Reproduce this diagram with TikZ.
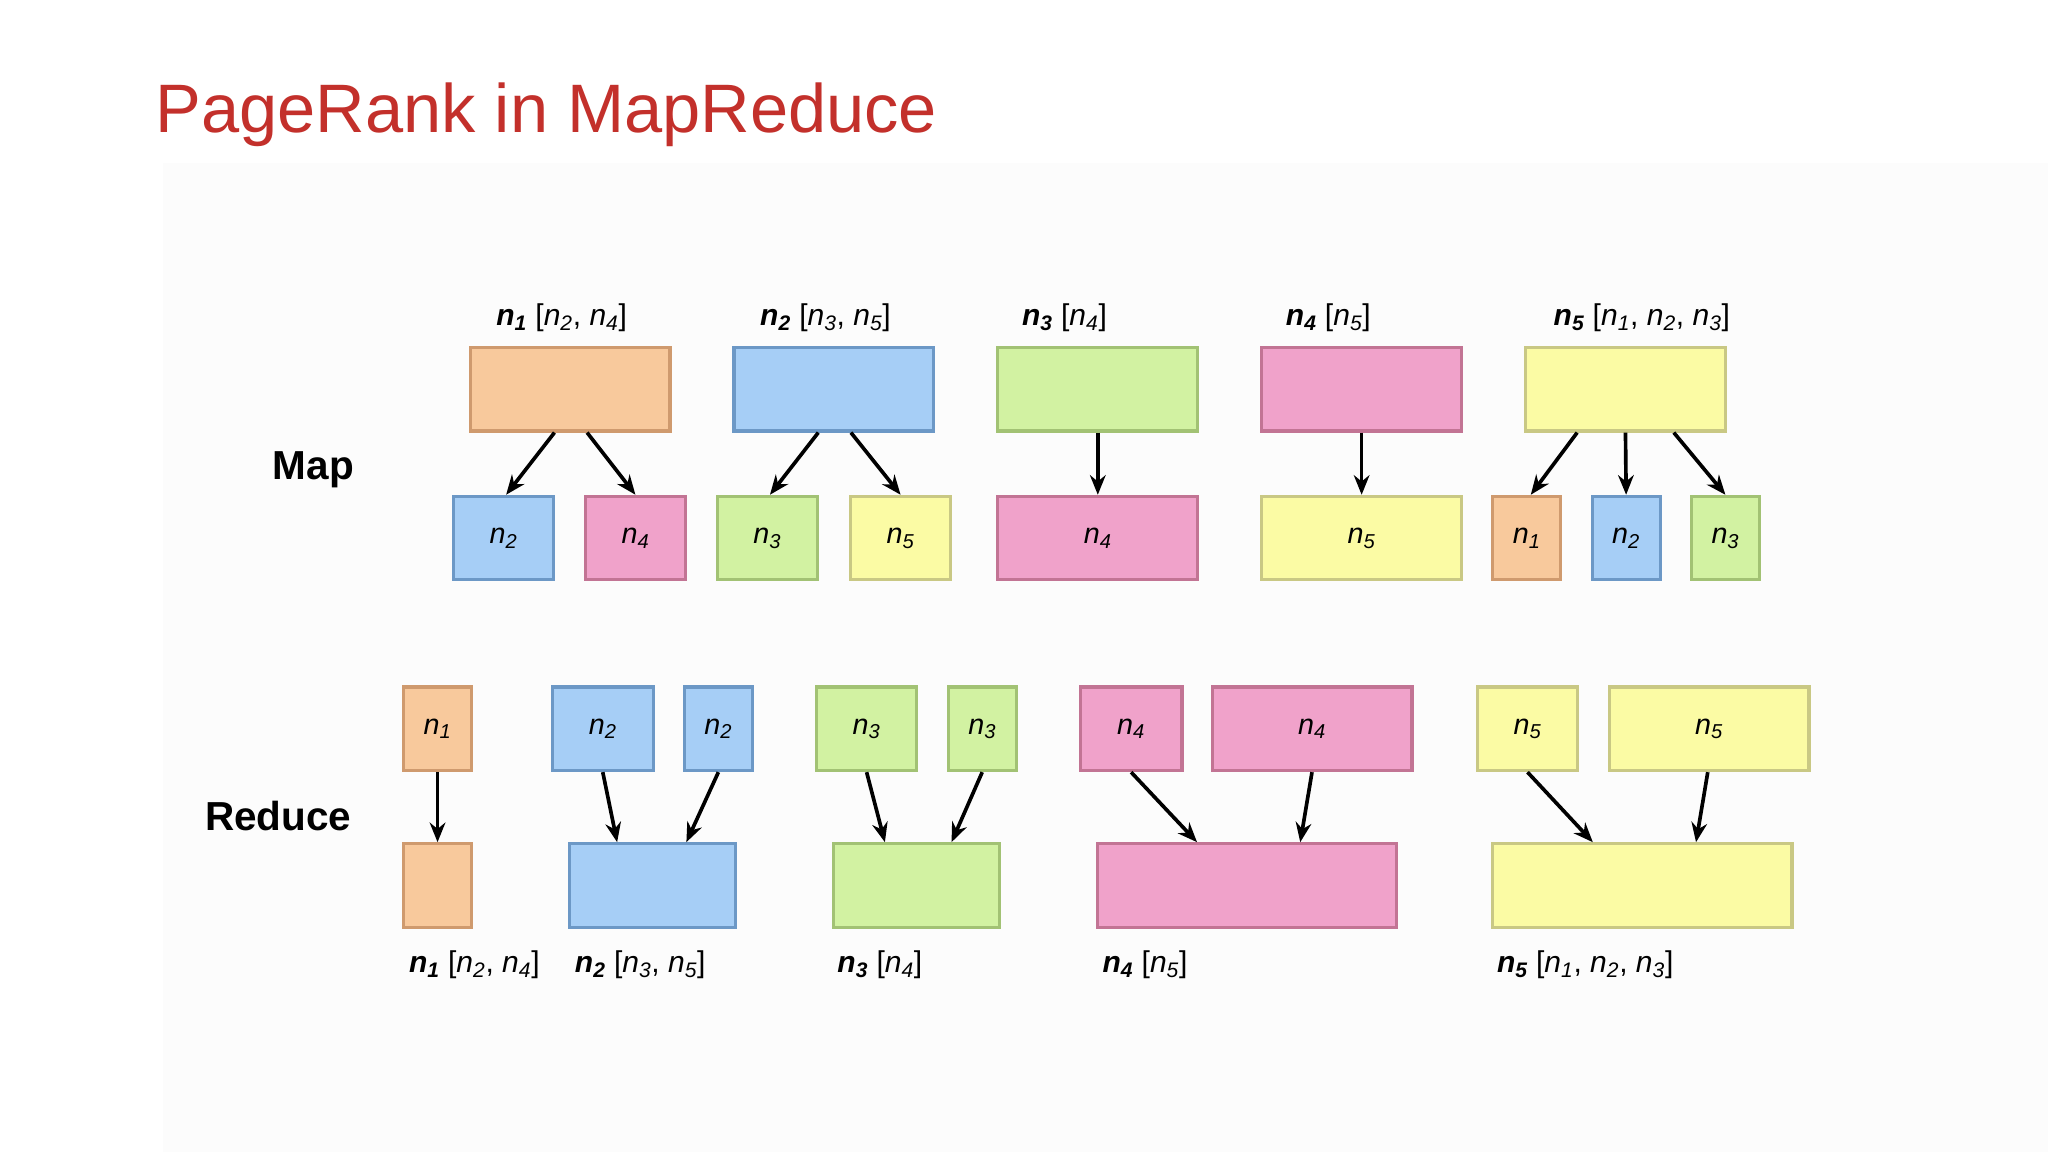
\documentclass[tikz,border=0pt]{standalone}
\usepackage{fontspec}
\setmainfont{Liberation Sans}
\usetikzlibrary{calc,arrows.meta}
\definecolor{ofill}{HTML}{F8C99C}\definecolor{odraw}{HTML}{CF9A6E}
\definecolor{bfill}{HTML}{A6CEF6}\definecolor{bdraw}{HTML}{6C98C6}
\definecolor{gfill}{HTML}{D2F2A2}\definecolor{gdraw}{HTML}{A2C274}
\definecolor{pfill}{HTML}{F0A2CA}\definecolor{pdraw}{HTML}{C27494}
\definecolor{yfill}{HTML}{FBFBA4}\definecolor{ydraw}{HTML}{C9C884}
\definecolor{titlered}{HTML}{C3302B}
\definecolor{bgpanel}{HTML}{FCFCFC}
\newcommand{\nv}[1]{{\itshape n\textsubscript{#1}}}
\newcommand{\nb}[1]{{\bfseries\itshape n\textsubscript{#1}}}
\tikzset{
 bx/.style={draw=#1draw,fill=#1fill,line width=2.4pt,inner sep=0pt,font=\fontsize{22}{24}\selectfont},
 arr/.style={-{Stealth[length=15pt,width=12pt]},line width=2.8pt},
 lab/.style={font=\fontsize{23}{26}\selectfont,inner sep=0pt}
}
\newcommand{\B}[6]{\node[bx=#1,minimum width=#4-#3,minimum height=64pt] (#2) at ({(#3+#4)/2},{#5+32}) {#6};}
\begin{document}
\begin{tikzpicture}[x=1pt,y=-1pt]
\useasboundingbox (0,0) rectangle (1568,882);
\fill[white] (0,0) rectangle (1568,882);
\fill[bgpanel] (125,125) rectangle (1568,882);
\node[anchor=west,text=titlered,font=\fontsize{52.5}{58}\selectfont,inner sep=0pt] (title) at (119,88) {PageRank in MapReduce};
\node[font=\bfseries\fontsize{31}{34}\selectfont] (map) at (240,360) {Map};
\node[font=\bfseries\fontsize{31}{34}\selectfont] (red) at (213,625) {Reduce};
% map top
\B{o}{t1}{360}{513}{266}{}
\B{b}{t2}{562}{715}{266}{}
\B{g}{t3}{764}{917}{266}{}
\B{p}{t4}{966}{1119}{266}{}
\B{y}{t5}{1168}{1321}{266}{}
\node[lab] (l1) at (430,243) {\nb1 [\nv2, \nv4]};
\node[lab] (l2) at (632,243) {\nb2 [\nv3, \nv5]};
\node[lab] (l3) at (815,243) {\nb3 [\nv4]};
\node[lab] (l4) at (1017,243) {\nb4 [\nv5]};
\node[lab] (l5) at (1257,243) {\nb5 [\nv1, \nv2, \nv3]};
% map bottom
\B{b}{m1}{347}{424}{380}{\nv2}
\B{p}{m2}{448}{525}{380}{\nv4}
\B{g}{m3}{549}{626}{380}{\nv3}
\B{y}{m4}{651}{728}{380}{\nv5}
\B{p}{m5}{764}{917}{380}{\nv4}
\B{y}{m6}{966}{1119}{380}{\nv5}
\B{o}{m7}{1143}{1195}{380}{\nv1}
\B{b}{m8}{1219}{1271}{380}{\nv2}
\B{g}{m9}{1295}{1347}{380}{\nv3}
\draw[arr] ($(t1.south)+(-12,0)$) -- ($(m1.north)+(2,0)$);
\draw[arr] ($(t1.south)+(13,0)$) -- ($(m2.north)+(0,0)$);
\draw[arr] ($(t2.south)+(-12,0)$) -- ($(m3.north)+(2,0)$);
\draw[arr] ($(t2.south)+(13,0)$) -- ($(m4.north)+(0,0)$);
\draw[arr] (t3.south) -- (m5.north);
\draw[arr] (t4.south) -- (m6.north);
\draw[arr] ($(t5.south)+(-37,0)$) -- ($(m7.north)+(3,0)$);
\draw[arr] (t5.south) -- (m8.north);
\draw[arr] ($(t5.south)+(37,0)$) -- ($(m9.north)+(0,0)$);
% reduce top
\B{o}{r1}{309}{361}{526}{\nv1}
\B{b}{r2}{423}{500}{526}{\nv2}
\B{b}{r3}{524}{576}{526}{\nv2}
\B{g}{r4}{625}{702}{526}{\nv3}
\B{g}{r5}{726}{778}{526}{\nv3}
\B{p}{r6}{827}{905}{526}{\nv4}
\B{p}{r7}{928}{1081}{526}{\nv4}
\B{y}{r8}{1131}{1208}{526}{\nv5}
\B{y}{r9}{1232}{1385}{526}{\nv5}
% reduce bottom
\B{o}{s1}{309}{361}{646}{}
\B{b}{s2}{436}{563}{646}{}
\B{g}{s3}{638}{765}{646}{}
\B{p}{s4}{840}{1069}{646}{}
\B{y}{s5}{1143}{1372}{646}{}
\draw[arr] (r1.south) -- (s1.north);
\draw[arr] (r2.south) -- ($(s2.north)+(-27,0)$);
\draw[arr] (r3.south) -- ($(s2.north)+(26,0)$);
\draw[arr] (r4.south) -- ($(s3.north)+(-24,0)$);
\draw[arr] (r5.south) -- ($(s3.north)+(27,0)$);
\draw[arr] (r6.south) -- ($(s4.north)+(-38,0)$);
\draw[arr] (r7.south) -- ($(s4.north)+(41,0)$);
\draw[arr] (r8.south) -- ($(s5.north)+(-38,0)$);
\draw[arr] ($(r9.south)+(-1,0)$) -- ($(s5.north)+(41,0)$);
\node[lab,anchor=west] (b1) at (313,739) {\nb1 [\nv2, \nv4]};
\node[lab,anchor=west] (b2) at (440,739) {\nb2 [\nv3, \nv5]};
\node[lab,anchor=west] (b3) at (641,739) {\nb3 [\nv4]};
\node[lab,anchor=west] (b4) at (844,739) {\nb4 [\nv5]};
\node[lab,anchor=west] (b5) at (1146,739) {\nb5 [\nv1, \nv2, \nv3]};
\end{tikzpicture}
\end{document}
